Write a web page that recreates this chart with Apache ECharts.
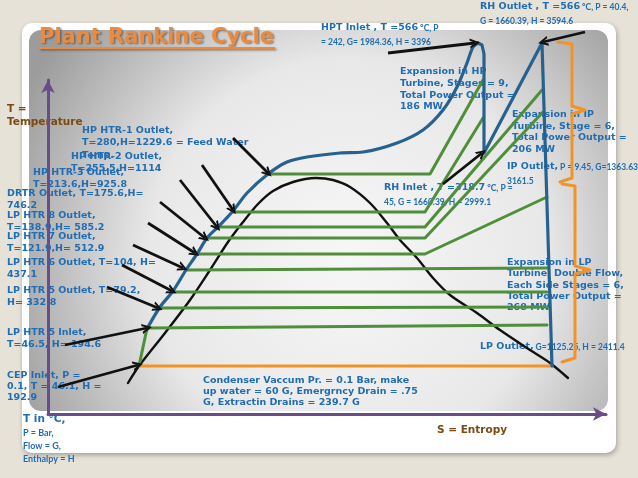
<!DOCTYPE html>
<html><head><meta charset="utf-8">
<script src="https://cdn.jsdelivr.net/npm/echarts@6/dist/echarts.min.js"></script>
<style>html,body{margin:0;padding:0;background:#e7e2d8;}#c{width:638px;height:478px;}</style>
</head><body><div id="c"></div><script>
// ---- data: [entropy S, temperature T] in chart units ----
const feedwaterSteam = [[100,87],[112,107],[125,123],[138,144],[149,160],[159,176],[170,187],[185,203],[199,221],[220,240],[239,252],[259,257],[292,261],[315,262],[349,271],[375,284],[395,304],[409,327],[419,351],[425,367],[430,371]];
const hpReheatLp = [[430,371],[434,369],[436,360],[436,261],[494,371],[504,48]];
const saturationDome = [[80,31],[91,48],[117,81],[142,114],[162,144],[180,172],[195,192],[210,210],[225,223],[245,232],[268,236],[285,234],[302,227],[322,211],[339,191],[352,174],[369,156],[385,136],[402,119],[429,101],[452,84],[482,64],[502,51],[520,36]];
const condenserLine = [[91,48],[504,48]];
const cepToHeater = [[91,48],[98,81],[100,87]];
const extractionHP1 = [[220,240],[382,240],[435,334]];
const extractionHP2 = [[185,202],[377,202],[435,296]];
const extractionHP3 = [[170,187],[377,187],[494,324]];
const extractionDrtr = [[159,176],[377,176],[495,302]];
const extractionLP8 = [[149,160],[377,160],[499,217]];
const extractionLP7 = [[138,144],[499,146]];
const extractionLP6 = [[124,122],[499,122]];
const extractionLP5out = [[112,106],[499,107]];
const extractionLP5in = [[100,86],[499,89]];
const bracketIP = [[510,372],[524,370],[524,308],[537,304],[524,300],[524,236],[512,232]];
const bracketLP = [[514,230],[527,228],[527,148],[542,144],[527,140],[527,56],[514,52]];
const arrowPairs = [
  [[185,276],[220,241]], [[154,249],[185,204]], [[132,234],[169,187]], [[112,212],[157,176]],
  [[100,191],[147,161]], [[85,169],[135,146]], [[74,149],[124,123]], [[59,127],[110,106]],
  [[17,69],[99,86]], [[10,27],[90,49]], [[340,361],[427,371]], [[537,382],[495,372]], [[395,230],[434,261]]
];
// ---- text ----
const titleText = 'Plant Rankine Cycle';
const heaterLabels = [
  'HP HTR-1 Outlet,\nT=280,H=1229.6 = Feed Water\nTemp.',
  'HP HTR-2 Outlet,\nT=255.5,H=1114',
  'HP HTR-3 Outlet,\nT=213.6,H=925.8',
  'DRTR Outlet, T=175.6,H=\n746.2',
  'LP HTR 8 Outlet,\nT=138.9,H= 585.2',
  'LP HTR 7 Outlet,\nT=121.9,H= 512.9',
  'LP HTR 6 Outlet, T=104, H=\n437.1',
  'LP HTR 5 Outlet, T=79.2,\nH= 332.8',
  'LP HTR 5 Inlet,\nT=46.5, H= 194.6',
  'CEP Inlet, P =\n0.1, T = 46.1, H =\n192.9'
];
const condenserText = 'Condenser Vaccum Pr. = 0.1 Bar, make\nup water = 60 G, Emergrncy Drain = .75\nG, Extractin Drains = 239.7 G';
const expansionHP = 'Expansion in HP\nTurbine, Stages = 9,\nTotal Power Output =\n186 MW';
const expansionIP = 'Expansion in IP\nTurbine, Stage = 6,\nTotal Power Output =\n206 MW';
const expansionLP = 'Expansion in LP\nTurbine, Double Flow,\nEach Side Stages = 6,\nTotal Power Output =\n268 MW';

const BLUE = '#1f6db4', BROWN = '#7a4a12';
const FB = 'bold 9.5px "DejaVu Sans"', FS = 'bold 8.5px Lato';

function txt(x, y, text, font, fill, lh, z) {
  return {type:'text', x:x, y:y, z: z || 2, silent:true,
    style:{text:text, font:font, fill:fill, lineHeight:lh || 12, verticalAlign:'top', align:'left'}};
}
function rich(x, y, a, b) {
  return {type:'text', x:x, y:y, z:2, silent:true,
    style:{text:'{a|' + a + '}{b|' + b + '}', verticalAlign:'top', align:'left',
      rich:{a:{fontFamily:'DejaVu Sans', fontWeight:'bold', fontSize:9.5, fill:BLUE},
            b:{fontFamily:'Lato', fontWeight:'bold', fontSize:8.5, fill:BLUE}}}};
}
const heaterPos = [[82,124,12.5],[71,151,11.5],[33,167,12],[7,188,12],[7,210,12],[7,231,12],[7,257,11.5],[7,285,11.5],[7,327,11.5],[7,370,11.2]];

const graphics = [
  {type:'rect', z:0, silent:true, shape:{x:22,y:23,width:594,height:430,r:10},
   style:{fill:'#ffffff', shadowBlur:5, shadowColor:'rgba(0,0,0,0.3)', shadowOffsetX:1, shadowOffsetY:2}},
  {type:'rect', z:1, silent:true, shape:{x:29,y:30,width:579,height:381,r:12},
   style:{fill:{type:'radial', x:0.55, y:0.6, r:0.95, colorStops:[
     {offset:0,color:'#f7f7f7'},{offset:0.55,color:'#e8e8e8'},{offset:1,color:'#9c9c9c'}]}}},
  {type:'text', x:39, y:27, z:2, silent:true, style:{text:titleText, font:'bold 21px "DejaVu Sans"', fill:'#ee8a3c',
    verticalAlign:'top', textShadowColor:'rgba(60,60,60,0.6)', textShadowBlur:2, textShadowOffsetX:1.5, textShadowOffsetY:1.5}},
  {type:'line', z:2, silent:true, shape:{x1:39,y1:48,x2:275,y2:48}, style:{stroke:'#ee8a3c', lineWidth:2,
    shadowColor:'rgba(60,60,60,0.6)', shadowBlur:2, shadowOffsetX:1.5, shadowOffsetY:1.5}},
  txt(7, 103, 'T =\nTemperature', 'bold 10.5px "DejaVu Sans"', BROWN, 13),
  txt(437, 424, 'S = Entropy', 'bold 10.5px "DejaVu Sans"', BROWN),
  txt(203, 375, condenserText, FB, BLUE, 11.2),
  txt(23, 413, 'T in \u00B0C,', 'bold 10.5px "DejaVu Sans"', BLUE),
  txt(23, 427, 'P = Bar,', 'bold 9px Lato', BLUE),
  txt(23, 440, 'Flow = G,', 'bold 9px Lato', BLUE),
  txt(23, 453, 'Enthalpy = H', 'bold 9px Lato', BLUE),
  rich(480, 2, 'RH Outlet , T =566', ' \u00B0C, P = 40.4,'),
  txt(480, 15, 'G = 1660.39, H = 3594.6', FS, BLUE),
  rich(321, 23, 'HPT Inlet , T =566', ' \u00B0C, P'),
  txt(321, 36, '= 242, G= 1984.36, H = 3396', FS, BLUE),
  txt(400, 66, expansionHP, FB, BLUE, 11.7),
  txt(512, 109, expansionIP, FB, BLUE, 11.5),
  rich(507, 162, 'IP Outlet,', ' P = 9.45, G=1363.63,'),
  txt(507, 175, '3161.5', FS, BLUE),
  rich(384, 183, 'RH Inlet , T =318.7', ' \u00B0C, P ='),
  txt(384, 196, '45, G = 1660.39, H = 2999.1', FS, BLUE),
  txt(507, 257, expansionLP, FB, BLUE, 11.3),
  rich(480, 342, 'LP Outlet,', ' G=1125.25, H = 2411.4')
];
heaterLabels.forEach(function(t, i){ const p = heaterPos[i]; graphics.push(txt(p[0], p[1], t, FB, BLUE, p[2])); });

function ls(data, color, width, z, smooth) {
  return {type:'line', xAxisIndex:0, yAxisIndex:0, data:data, symbol:'none', showSymbol:false,
    smooth:smooth || false, clip:false, silent:true, z:z,
    lineStyle:{color:color, width:width, cap:'round', join:'round'}};
}
const GREEN = '#4f8e3b', ORANGE = '#f39325', LINEBLUE = '#27628f';
const chevron = 'path://M50 0 L100 72 L78 72 L50 30 L22 72 L0 72 Z';

const series = [
  ls(saturationDome, '#111111', 2.4, 4, 0.3),
  ls(condenserLine, ORANGE, 3, 5),
  ls(bracketIP, ORANGE, 3, 5),
  ls(bracketLP, ORANGE, 3, 5),
  ls(cepToHeater, GREEN, 3, 5),
  ls(extractionHP1, GREEN, 3, 5),
  ls(extractionHP2, GREEN, 3, 5),
  ls(extractionHP3, GREEN, 3, 5),
  ls(extractionDrtr, GREEN, 3, 5),
  ls(extractionLP8, GREEN, 3, 5),
  ls(extractionLP7, GREEN, 3, 5),
  ls(extractionLP6, GREEN, 3, 5),
  ls(extractionLP5out, GREEN, 3, 5),
  ls(extractionLP5in, GREEN, 3, 5),
  ls(feedwaterSteam, LINEBLUE, 3.2, 6, 0.3),
  ls(hpReheatLp, LINEBLUE, 3.2, 6),
  {type:'lines', coordinateSystem:'cartesian2d', xAxisIndex:0, yAxisIndex:0, z:8, silent:true,
   symbol:['none', chevron], symbolSize:[14,10],
   lineStyle:{color:'#111111', width:2.8, opacity:1, curveness:0},
   itemStyle:{color:'#111111'},
   data: arrowPairs.map(function(p){ return {coords:p}; })},
  {type:'line', xAxisIndex:1, yAxisIndex:1, data:[], silent:true}
];

const hidden = {show:false};
const chart = echarts.init(document.getElementById('c'), null, {renderer:'canvas'});
chart.setOption({
  animation:false,
  backgroundColor:'#e7e2d8',
  grid:[{left:48,right:32,top:0,bottom:64,show:false},{left:48,right:32,top:80,bottom:64,show:false}],
  xAxis:[
    {gridIndex:0,type:'value',min:0,max:558,show:false},
    {gridIndex:1,type:'value',min:0,max:558,z:3,
     axisLine:{show:true,onZero:false,symbol:['none','arrow'],symbolSize:[10,13],lineStyle:{color:'#6a4c8b',width:3}},
     axisTick:hidden,axisLabel:hidden,splitLine:hidden}
  ],
  yAxis:[
    {gridIndex:0,type:'value',min:0,max:414,show:false},
    {gridIndex:1,type:'value',min:0,max:334,z:3,
     axisLine:{show:true,onZero:false,symbol:['none','arrow'],symbolSize:[10,13],lineStyle:{color:'#6a4c8b',width:3}},
     axisTick:hidden,axisLabel:hidden,splitLine:hidden}
  ],
  graphic:{elements:graphics},
  series:series
});
</script></body></html>
